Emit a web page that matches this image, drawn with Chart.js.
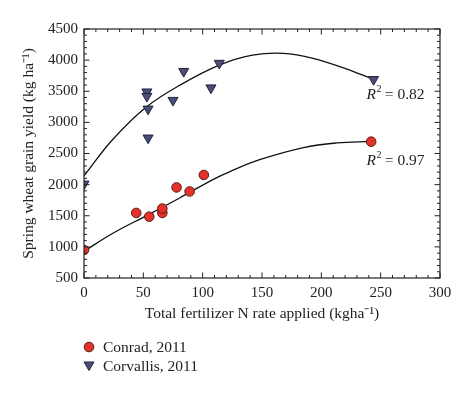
<!DOCTYPE html>
<html><head><meta charset="utf-8">
<script src="https://cdn.jsdelivr.net/npm/chart.js@4/dist/chart.umd.min.js"></script>
<style>
html,body{margin:0;padding:0;background:#fff;}
#wrap{position:relative;width:474px;height:395px;}
canvas{position:absolute;left:0;top:0;}
.leg{position:absolute;left:103px;font-family:"Liberation Serif",serif;font-size:15.5px;color:#222;line-height:18px;white-space:nowrap;}
svg{position:absolute;left:0;top:0;}
</style></head><body>
<div id="wrap">
<canvas id="c" width="474" height="395"></canvas>
<svg width="474" height="395">
  <circle cx="89" cy="347" r="4.8" fill="#e3322b" stroke="#5b1a12" stroke-width="1"/>
  <polygon points="84,362 94,362 89,370.5" fill="#4a4d78" stroke="#22233a" stroke-width="1"/>
</svg>
<div class="leg" id="l1" style="top:338px"></div>
<div class="leg" id="l2" style="top:357px"></div>
</div>
<script>
// ---- data ----
const seriesNames = ['Conrad, 2011', 'Corvallis, 2011'];
const conradN = [0, 44, 55, 66, 66, 78, 89, 101, 242];
const conradYield = [950, 1545, 1485, 1545, 1615, 1955, 1890, 2155, 2690];
const corvallisN = [0, 53, 53, 54, 54, 75, 84, 107, 114, 244];
const corvallisYield = [2010, 3490, 3420, 3215, 2750, 3355, 3820, 3555, 3950, 3690];
const conradFitN = [0, 24, 52, 81, 109, 123, 148, 185, 213, 242];
const conradFitYield = [930, 1215, 1495, 1790, 2085, 2210, 2400, 2595, 2670, 2695];
const corvallisFitN = [0, 24, 52, 81, 114, 142, 168, 193, 221, 244];
const corvallisFitYield = [2140, 2720, 3240, 3600, 3920, 4080, 4110, 4030, 3860, 3690];
const r2Texts = ['0.82', '0.97'];
const xTicks = [0, 50, 100, 150, 200, 250, 300];
const yTicks = [500, 1000, 1500, 2000, 2500, 3000, 3500, 4000, 4500];
const xTitle = 'Total fertilizer N rate applied (kgha\u207B\u00B9)';
const yTitle = 'Spring wheat grain yield (kg ha\u207B\u00B9)';

document.getElementById('l1').textContent = seriesNames[0];
document.getElementById('l2').textContent = seriesNames[1];

const toXY = (xs, ys) => xs.map((x, i) => ({x: x, y: ys[i]}));
const FONT = '"Liberation Serif", "Times New Roman", serif';

const frameTicks = {
  id: 'frameTicks',
  afterDatasetsDraw(chart) {
    const {ctx, chartArea, scales} = chart;
    const {left, right, top, bottom} = chartArea;
    const x = scales.x, y = scales.y;
    ctx.save();
    ctx.strokeStyle = '#222';
    ctx.lineWidth = 1.2;
    ctx.strokeRect(left, top, right - left, bottom - top);
    ctx.beginPath();
    for (let v = x.min; v <= x.max; v += 10) {
      const px = x.getPixelForValue(v);
      const len = v % 50 === 0 ? 5.5 : 3;
      ctx.moveTo(px, bottom); ctx.lineTo(px, bottom - len);
      ctx.moveTo(px, top); ctx.lineTo(px, top + len);
    }
    for (let v = y.min; v <= y.max; v += 100) {
      const py = y.getPixelForValue(v);
      const len = v % 500 === 0 ? 5.5 : 3;
      ctx.moveTo(left, py); ctx.lineTo(left + len, py);
      ctx.moveTo(right, py); ctx.lineTo(right - len, py);
    }
    ctx.lineWidth = 1;
    ctx.stroke();
    ctx.restore();
  }
};

const r2Plugin = {
  id: 'r2',
  afterDraw(chart, args, opts) {
    const {ctx, scales} = chart;
    ctx.save();
    ctx.fillStyle = '#222';
    ctx.textBaseline = 'middle';
    opts.items.forEach((it, i) => {
      const px = scales.x.getPixelForValue(it.n);
      const py = scales.y.getPixelForValue(it.v);
      ctx.font = 'italic 15.5px ' + FONT;
      ctx.fillText('R', px, py);
      const wR = ctx.measureText('R').width;
      ctx.font = '10px ' + FONT;
      ctx.fillText('2', px + wR + 0.5, py - 6);
      ctx.font = '15.5px ' + FONT;
      ctx.fillText(' = ' + r2Texts[i], px + wR + 5, py);
    });
    ctx.restore();
  }
};

new Chart(document.getElementById('c'), {
  type: 'scatter',
  data: {
    datasets: [
      {
        label: seriesNames[0],
        data: toXY(conradN, conradYield),
        pointStyle: 'circle',
        pointRadius: 4.8,
        pointHoverRadius: 4.8,
        backgroundColor: '#e3322b',
        borderColor: '#5b1a12',
        borderWidth: 1,
        order: 1
      },
      {
        label: seriesNames[1],
        data: toXY(corvallisN, corvallisYield),
        pointStyle: 'triangle',
        rotation: 180,
        pointRadius: 5.8,
        pointHoverRadius: 5.8,
        backgroundColor: '#4a4d78',
        borderColor: '#22233a',
        borderWidth: 1,
        order: 1
      },
      {
        label: 'Conrad fit',
        data: toXY(conradFitN, conradFitYield),
        showLine: true,
        pointRadius: 0,
        borderColor: '#111',
        borderWidth: 1.3,
        tension: 0.4,
        fill: false,
        order: 2
      },
      {
        label: 'Corvallis fit',
        data: toXY(corvallisFitN, corvallisFitYield),
        showLine: true,
        pointRadius: 0,
        borderColor: '#111',
        borderWidth: 1.3,
        tension: 0.4,
        fill: false,
        order: 2
      }
    ]
  },
  options: {
    responsive: false,
    animation: false,
    events: [],
    layout: { padding: { left: 0, right: 34, top: 29, bottom: 69 } },
    plugins: {
      legend: { display: false },
      tooltip: { enabled: false },
      r2: { items: [ { n: 238, v: 3440 }, { n: 238, v: 2380 } ] }
    },
    scales: {
      x: {
        type: 'linear',
        min: 0, max: 300,
        afterBuildTicks: s => { s.ticks = xTicks.map(v => ({value: v})); },
        afterFit: s => { s.height = 48; },
        grid: { display: false, drawTicks: false },
        border: { display: false },
        ticks: { color: '#222', padding: 6, maxRotation: 0, callback: v => String(v), font: { family: FONT, size: 15 } },
        title: { display: true, text: xTitle, color: '#222', padding: { top: 0, bottom: 3 }, font: { family: FONT, size: 15.5 } }
      },
      y: {
        type: 'linear',
        min: 500, max: 4500,
        afterBuildTicks: s => { s.ticks = yTicks.map(v => ({value: v})); },
        afterFit: s => { s.width = 84; },
        grid: { display: false, drawTicks: false },
        border: { display: false },
        ticks: { color: '#222', padding: 6, callback: v => String(v), font: { family: FONT, size: 15 } },
        title: { display: true, text: yTitle, color: '#222', padding: { top: 20, bottom: 0 }, font: { family: FONT, size: 15.5 } }
      }
    }
  },
  plugins: [frameTicks, r2Plugin]
});
</script>
</body></html>
